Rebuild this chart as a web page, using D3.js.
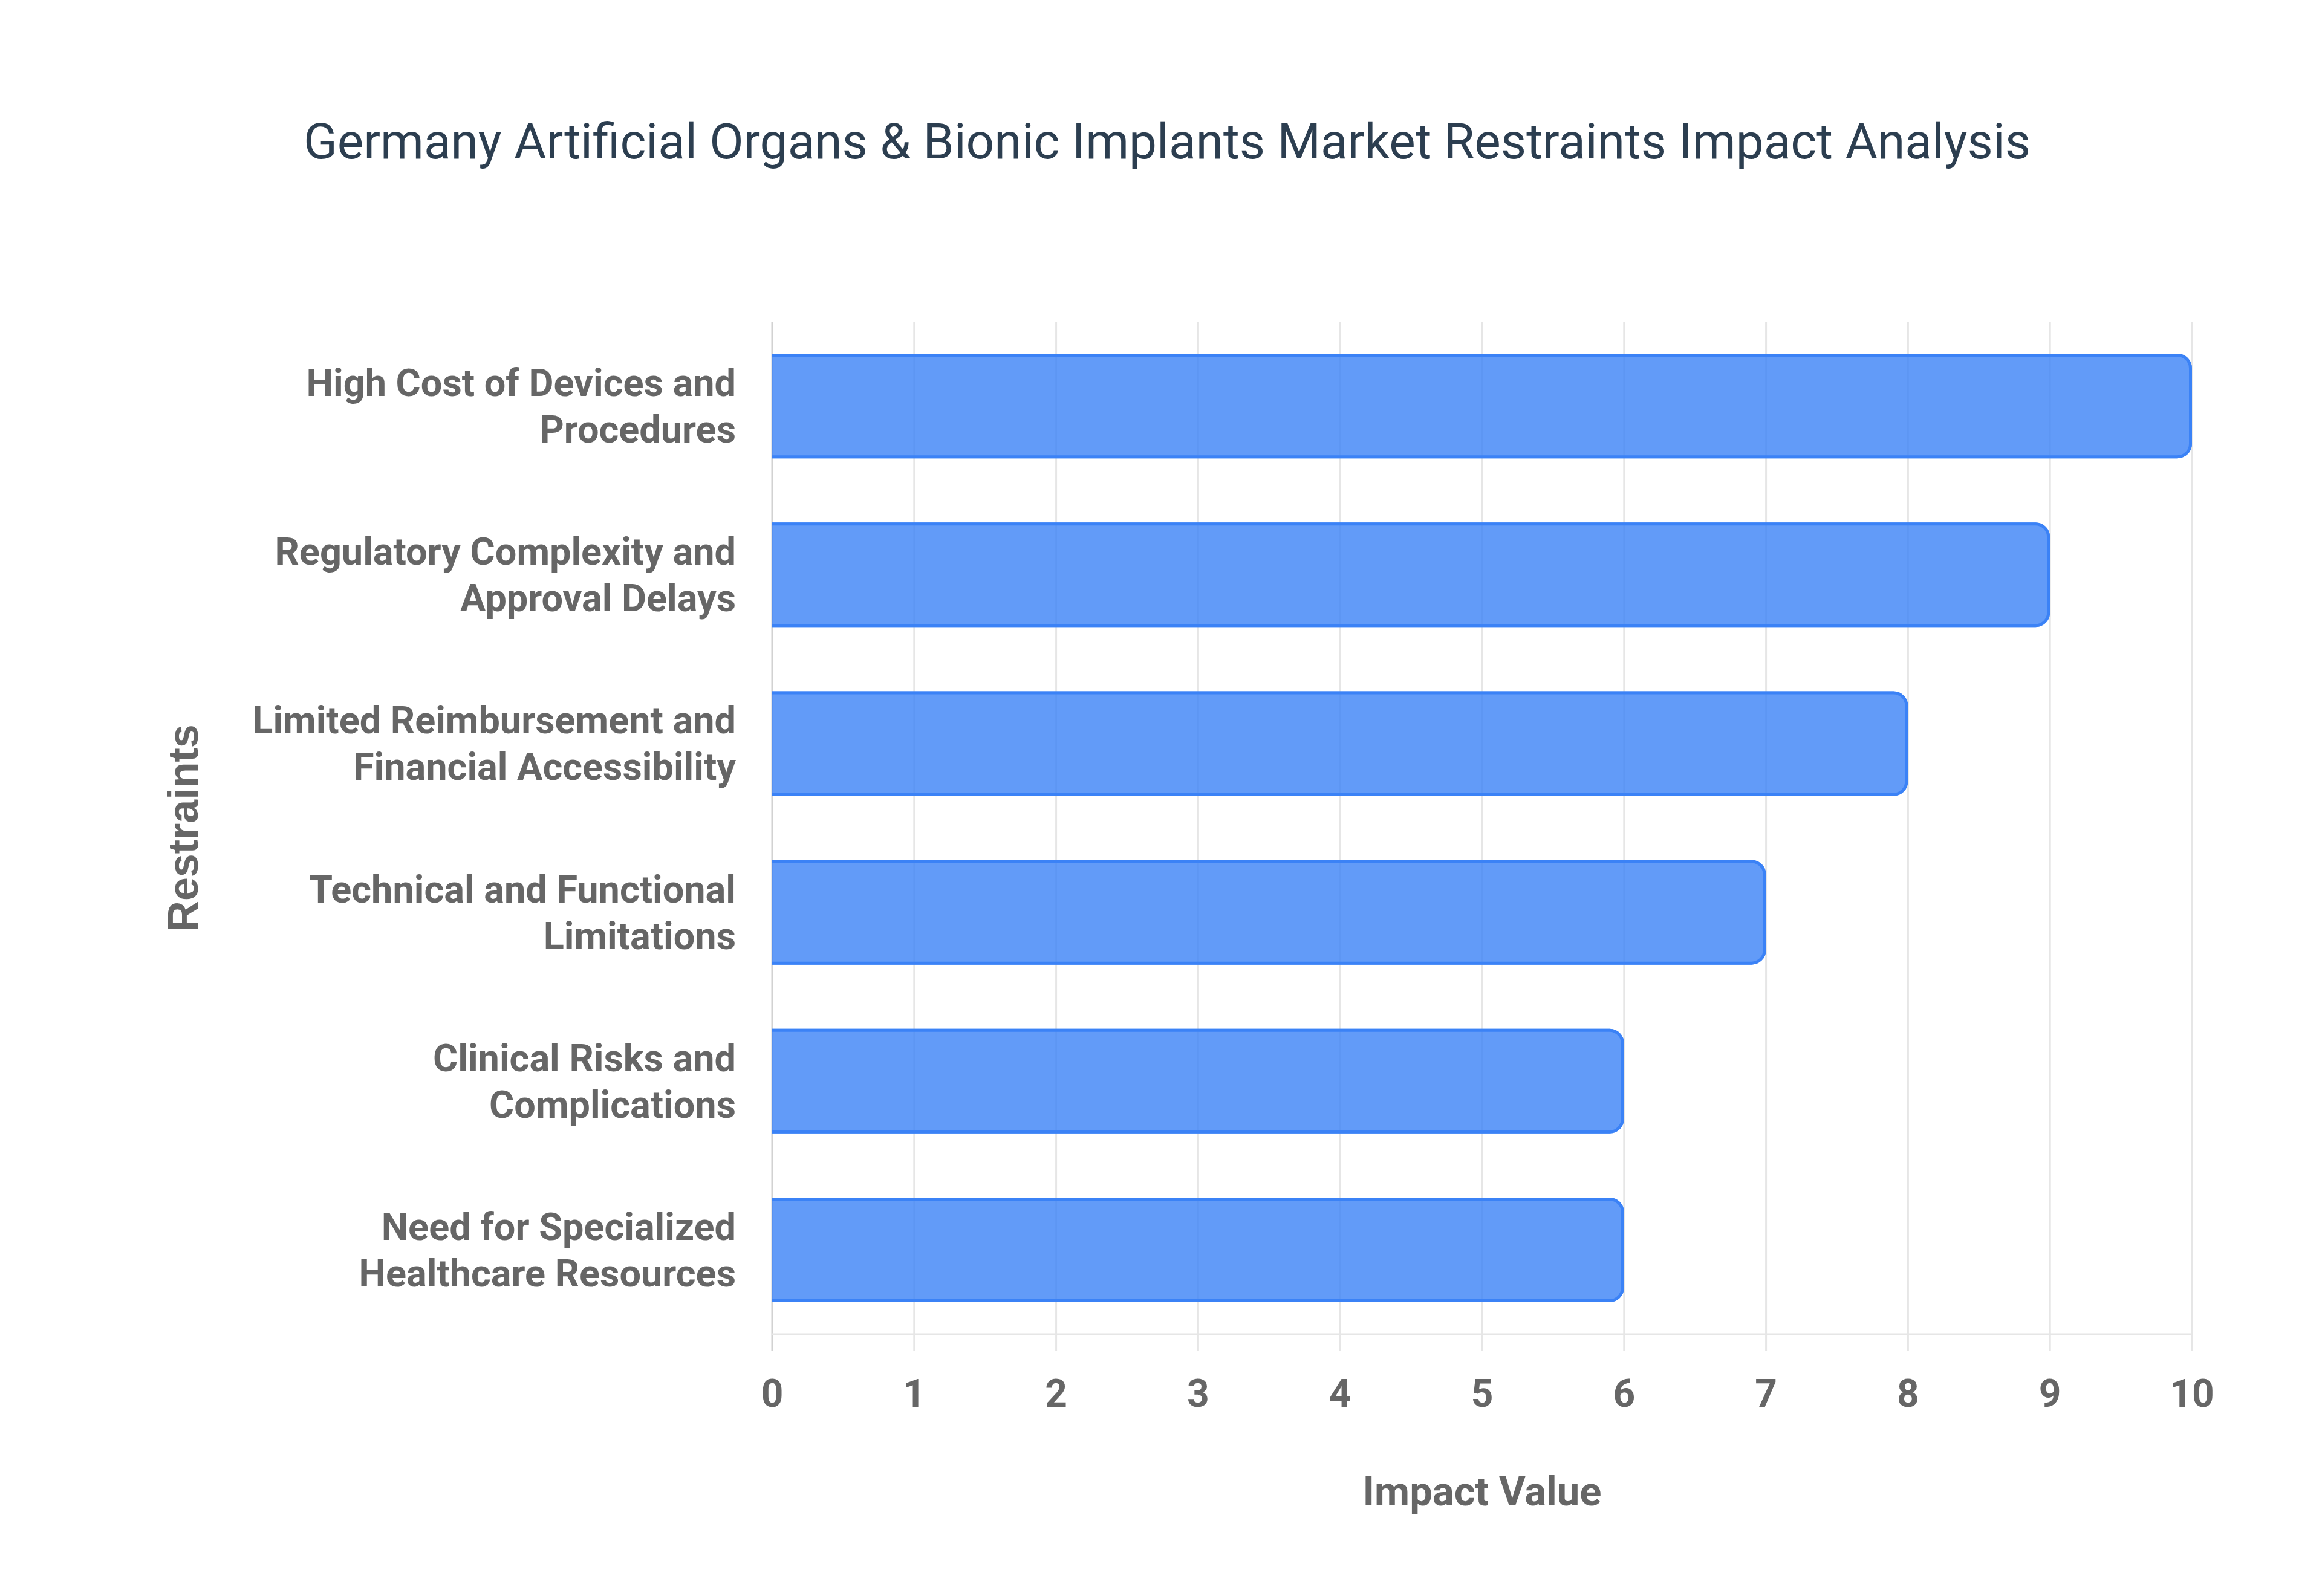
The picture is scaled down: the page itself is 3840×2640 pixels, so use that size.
<!DOCTYPE html>
<html lang="en">
<head>
<meta charset="utf-8">
<title>Restraints Impact</title>
<script src="https://cdn.jsdelivr.net/npm/d3@7"></script>
<style>
  body { margin: 0; background: #fff; }
  svg { display: block; }
</style>
</head>
<body>
<div id="chart"></div>
<script>
// data
let restraints = [
  ["High Cost of Devices and", "Procedures"],
  ["Regulatory Complexity and", "Approval Delays"],
  ["Limited Reimbursement and", "Financial Accessibility"],
  ["Technical and Functional", "Limitations"],
  ["Clinical Risks and", "Complications"],
  ["Need for Specialized", "Healthcare Resources"]
]
let impact = [10, 9, 8, 7, 6, 6]
let xTicks = [0, 1, 2, 3, 4, 5, 6, 7, 8, 9, 10]

let titleText = "Germany Artificial Organs & Bionic Implants Market Restraints Impact Analysis"

let w = 3840
let h = 2640
let area = {left: 1277, right: 3625, top: 532, bottom: 2207}

let svg = d3.select("#chart").append("svg")
    .attr("width", w)
    .attr("height", h)
svg.append("rect").attr("width", w).attr("height", h).attr("fill", "#fff")

let x = d3.scaleLinear().domain([0, 10]).range([area.left, area.right])
let y = d3.scaleBand()
    .domain(restraints.map(d => d.join(" ")))
    .range([area.top, area.bottom])
    .paddingInner(0.38)
    .paddingOuter(0.19)

let labelFont = "Roboto, 'Liberation Sans', Arial, sans-serif"

// title
svg.append("text")
    .attr("x", 1930)
    .attr("y", 262)
    .attr("text-anchor", "middle")
    .attr("fill", "#2c3e50")
    .style("font-family", "Roboto, 'Noto Sans', sans-serif")
    .style("font-weight", 400)
    .style("font-size", "82px")
    .text(titleText)

// vertical grid
let grid = svg.append("g")
grid.selectAll("line")
  .data(xTicks)
  .join("line")
    .attr("x1", d => x(d)).attr("x2", d => x(d))
    .attr("y1", area.top).attr("y2", area.bottom + 28)
    .attr("stroke", d => d === 0 ? "#d2d2d2" : "#e6e6e6")
    .attr("stroke-width", 3)
// bottom border
grid.append("line")
    .attr("x1", area.left).attr("x2", area.right)
    .attr("y1", area.bottom).attr("y2", area.bottom)
    .attr("stroke", "#e6e6e6")
    .attr("stroke-width", 3)

// bars
let sw = 5
let r = 24
let bars = svg.append("g")
bars.selectAll("path.fill")
  .data(impact)
  .join("path")
    .attr("class", "fill")
    .attr("fill", "#3b82f6")
    .attr("fill-opacity", 0.8)
    .attr("d", (d, i) => {
      let y0 = y(y.domain()[i]), bh = y.bandwidth()
      let x0 = x(0), x1 = x(d)
      let p = d3.path()
      p.moveTo(x0, y0)
      p.lineTo(x1 - r, y0)
      p.arcTo(x1, y0, x1, y0 + r, r)
      p.lineTo(x1, y0 + bh - r)
      p.arcTo(x1, y0 + bh, x1 - r, y0 + bh, r)
      p.lineTo(x0, y0 + bh)
      p.closePath()
      return p.toString()
    })
// outline, left side skipped
bars.selectAll("path.edge")
  .data(impact)
  .join("path")
    .attr("class", "edge")
    .attr("fill", "none")
    .attr("stroke", "#3b82f6")
    .attr("stroke-width", sw)
    .attr("d", (d, i) => {
      let y0 = y(y.domain()[i]) + sw / 2, bh = y.bandwidth() - sw
      let x0 = x(0), x1 = x(d) - sw / 2
      let rr = r - sw / 2
      let p = d3.path()
      p.moveTo(x0, y0)
      p.lineTo(x1 - rr, y0)
      p.arcTo(x1, y0, x1, y0 + rr, rr)
      p.lineTo(x1, y0 + bh - rr)
      p.arcTo(x1, y0 + bh, x1 - rr, y0 + bh, rr)
      p.lineTo(x0, y0 + bh)
      return p.toString()
    })

// y labels, two lines each
let yl = svg.append("g")
    .style("font-family", labelFont)
    .style("font-weight", 700)
    .style("font-size", "63px")
    .attr("fill", "#666")
restraints.forEach(function(lines, i) {
  let cy = y(y.domain()[i]) + y.bandwidth() / 2
  let t = yl.append("text")
      .attr("text-anchor", "end")
      .attr("x", area.left - 60)
  lines.forEach(function(s, j) {
    t.append("tspan")
      .attr("x", area.left - 60)
      .attr("y", cy + (j - (lines.length - 1) / 2) * 77)
      .attr("dy", "0.35em")
      .text(s)
  })
})

// x tick labels
svg.append("g")
    .style("font-family", labelFont)
    .style("font-weight", 700)
    .style("font-size", "64px")
    .attr("fill", "#666")
  .selectAll("text")
  .data(xTicks)
  .join("text")
    .attr("x", d => x(d))
    .attr("y", 2305)
    .attr("dy", "0.35em")
    .attr("text-anchor", "middle")
    .text(d => d)

// axis titles
svg.append("text")
    .attr("x", (area.left + area.right) / 2)
    .attr("y", 2490)
    .attr("text-anchor", "middle")
    .attr("fill", "#666")
    .style("font-family", labelFont)
    .style("font-weight", 700)
    .style("font-size", "67px")
    .text("Impact Value")

svg.append("text")
    .attr("transform", "translate(302," + ((area.top + area.bottom) / 2) + ") rotate(-90)")
    .attr("dy", "0.35em")
    .attr("text-anchor", "middle")
    .attr("fill", "#666")
    .style("font-family", "'Liberation Sans', Arial, sans-serif")
    .style("font-weight", 700)
    .style("font-size", "70px")
    .text("Restraints")
</script>
</body>
</html>
